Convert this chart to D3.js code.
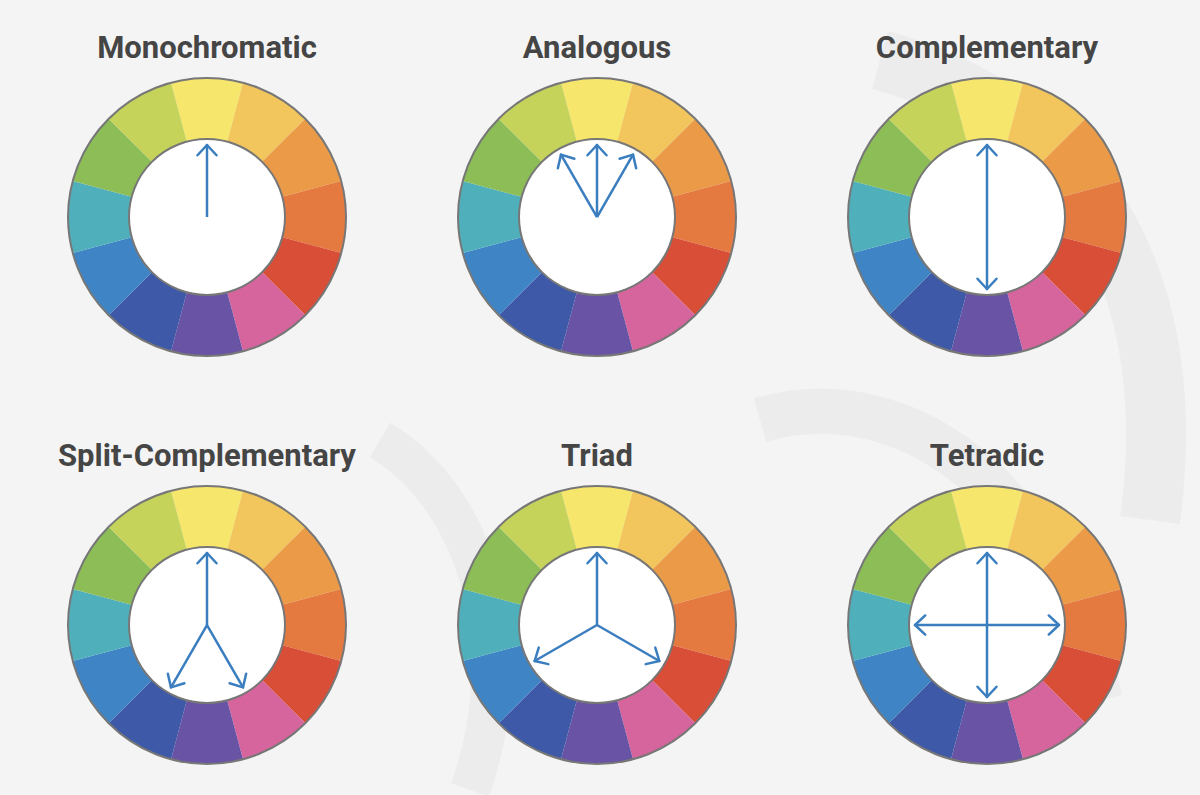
<!DOCTYPE html>
<html><head><meta charset="utf-8">
<script src="https://cdn.jsdelivr.net/npm/d3@7"></script>
<style>body{margin:0;background:#f4f4f4}</style>
</head><body>
<svg id="svg_canvas" width="1200" height="795"></svg>
<script>
// wheel segment colours, clockwise from top
var wheelColors = ["#f7e66c","#f2c65c","#eb9b48","#e47a40","#d84e37","#d6649d",
                   "#6953a5","#3d59a7","#3f85c6","#4fb0bc","#8cbd57","#c5d35b"];
var titles = ["Monochromatic","Analogous","Complementary","Split-Complementary","Triad","Tetradic"];
// arrow directions in degrees clockwise from up, one list per scheme
var arrowAngles = [[0],[-30,0,30],[0,180],[0,150,210],[0,120,240],[0,90,180,270]];

var svg = d3.select("svg");
var cols = [207, 597, 987];
var rows = [217, 625];
var outerR = 139, innerR = 78, arrowLen = 72;

// faint background swirls
var bg = svg.append("g").attr("fill", "none").attr("stroke", "#ececec");
bg.append("path").attr("d", "M 880 60 C 1100 120 1180 300 1150 520").attr("stroke-width", 60);
bg.append("path").attr("d", "M 760 420 C 900 380 1050 480 1100 700").attr("stroke-width", 45);
bg.append("path").attr("d", "M 380 440 C 480 500 520 650 470 790").attr("stroke-width", 40);

var pie = d3.pie().sort(null).value(1).startAngle(-Math.PI / 12).endAngle(2 * Math.PI - Math.PI / 12);
var arc = d3.arc().innerRadius(innerR).outerRadius(outerR);

titles.forEach(function(t, i){
	var cx = cols[i % 3], cy = rows[Math.floor(i / 3)];
	var g = svg.append("g").attr("transform", "translate(" + cx + "," + cy + ")");
	g.append("text").attr("y", -159).attr("text-anchor", "middle")
		.attr("font-family", "Roboto, sans-serif").attr("font-weight", "bold")
		.attr("font-size", 31).attr("fill", "#454545").text(t);
	g.selectAll("path.seg").data(pie(wheelColors)).enter().append("path")
		.attr("class", "seg").attr("d", arc).attr("fill", function(d){ return d.data; });
	g.append("circle").attr("r", outerR).attr("fill", "none").attr("stroke", "#777").attr("stroke-width", 2);
	g.append("circle").attr("r", innerR).attr("fill", "#fff").attr("stroke", "#777").attr("stroke-width", 2);
	arrowAngles[i].forEach(function(a){
		var r = a * Math.PI / 180;
		var x = arrowLen * Math.sin(r), y = -arrowLen * Math.cos(r);
		g.append("line").attr("x1", 0).attr("y1", 0).attr("x2", x).attr("y2", y)
			.attr("stroke", "#3b7ebf").attr("stroke-width", 2.5);
		[-1, 1].forEach(function(s){
			var hr = r + Math.PI + s * 0.75;
			g.append("line").attr("x1", x).attr("y1", y)
				.attr("x2", x + 14 * Math.sin(hr)).attr("y2", y - 14 * Math.cos(hr))
				.attr("stroke", "#3b7ebf").attr("stroke-width", 2.5).attr("stroke-linecap", "round");
		});
	});
});
</script>
</body></html>
